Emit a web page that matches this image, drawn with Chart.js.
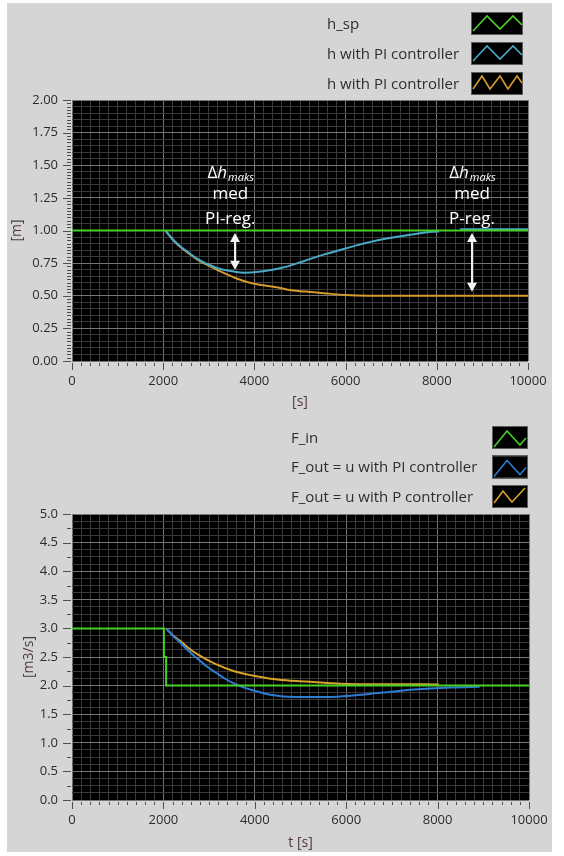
<!DOCTYPE html>
<html>
<head>
<meta charset="utf-8">
<script src="https://cdn.jsdelivr.net/npm/chart.js@4.4.1/dist/chart.umd.min.js"></script>
<style>
  html, body { margin: 0; padding: 0; background: #fff; }
  body { width: 564px; height: 856px; position: relative; overflow: hidden; }
  #panel { position: absolute; left: 7px; top: 3px; width: 545px; height: 849px; background: #d5d5d5; }
  .box { position: absolute; left: 0; width: 564px; }
  #boxTop { top: 0; height: 420px; }
  #boxBot { top: 420px; height: 436px; }
</style>
</head>
<body>
<div id="panel"></div>
<div class="box" id="boxTop"><canvas id="levelChart" width="564" height="420"></canvas></div>
<div class="box" id="boxBot"><canvas id="flowChart" width="564" height="436"></canvas></div>
<script>
// ---- level chart data (top) ----
const T_SP = [0, 10000];
const H_SP = [1.0, 1.0];
const T_H_PI = [2050, 2200, 2370, 2560, 2760, 2960, 3160, 3350, 3550, 3800, 4000, 4400, 4730, 5120, 5520, 5920, 6310, 6700, 7100, 7500, 7890, 8050, 8300, 8510, 10000];
const H_PI = [1.00, 0.935, 0.88, 0.83, 0.78, 0.745, 0.715, 0.697, 0.685, 0.677, 0.68, 0.70, 0.725, 0.77, 0.815, 0.855, 0.892, 0.925, 0.95, 0.972, 0.99, 0.993, null, 1.01, 1.01];
const T_H_P = [2050, 2200, 2370, 2560, 2760, 3000, 3200, 3580, 3900, 4200, 4520, 4730, 5120, 5520, 6000, 6500, 10000];
const H_P = [1.00, 0.935, 0.875, 0.825, 0.775, 0.73, 0.695, 0.636, 0.60, 0.58, 0.564, 0.546, 0.532, 0.52, 0.505, 0.50, 0.50];
const LEVEL_LABELS = ['h_sp', 'h with PI controller', 'h with PI controller'];

// annotations on the level chart (data units)
const ANNO_T = [3470, 8772];
const ANNO_REG = ['PI-reg.', 'P-reg.'];
const ANNO_ROWS = [1.446, 1.277, 1.085];
const ARROW_T = [3575, 8772];
const ARROW_HI = [0.98, 0.98];
const ARROW_LO = [0.70, 0.53];

// ---- flow chart data (bottom) ----
const T_IN = [0, 2010, 2010, 2060, 2060, 10000];
const F_IN = [3.0, 3.0, 2.5, 2.5, 2.0, 2.0];
const T_F_PI = [2060, 2200, 2370, 2560, 2760, 2960, 3160, 3350, 3550, 3750, 3950, 4340, 4890, 5520, 6000, 6700, 7500, 8290, 8920];
const F_PI = [3.0, 2.88, 2.75, 2.6, 2.46, 2.33, 2.22, 2.12, 2.035, 1.97, 1.92, 1.84, 1.80, 1.80, 1.82, 1.87, 1.93, 1.965, 1.98];
const T_F_P = [2060, 2200, 2370, 2560, 2760, 2960, 3160, 3550, 3950, 4340, 4730, 5120, 5520, 5700, 6000, 7000, 8030];
const F_P = [3.0, 2.885, 2.78, 2.65, 2.54, 2.45, 2.37, 2.25, 2.175, 2.12, 2.09, 2.07, 2.05, 2.04, 2.03, 2.025, 2.02];
const FLOW_LABELS = ['F_in', 'F_out = u with PI controller', 'F_out = u with P controller'];

const GREEN = '#46d02a', CYAN = '#48a9c9', ORANGE = '#d49a2c', BLUE = '#2e7bd2', ORANGE2 = '#d9a22a';
const MAJOR = '#767676', MINOR = '#3a3a3a';
const TICK_COLOR = '#2c2c2c', TITLE_COLOR = '#4e3646', LEGEND_COLOR = '#2e2e2e';
const FONT = '"Open Sans", "DejaVu Sans", sans-serif';

function pts(ts, vs) { return ts.map((t, i) => ({x: t, y: vs[i]})); }
function isMult(v, step) { return Math.abs(v / step - Math.round(v / step)) < 1e-6; }

function line(label, ts, vs, color, smooth) {
  return {
    label: label, data: pts(ts, vs), borderColor: color, borderWidth: 2,
    pointRadius: 0, tension: 0, spanGaps: false,
    cubicInterpolationMode: smooth ? 'monotone' : 'default'
  };
}

function xAxis(title, padBottom, h) {
  return {
    type: 'linear', min: 0, max: 10000,
    ticks: { stepSize: 200, autoSkip: false, maxRotation: 0, padding: 12, color: TICK_COLOR,
             font: { family: FONT, size: 13 }, callback: v => (isMult(v, 2000) ? String(v) : '') },
    grid: { drawTicks: false, color: c => (c.tick && isMult(c.tick.value, 2000) ? MAJOR : MINOR) },
    border: { display: false },
    title: { display: true, text: title, color: TITLE_COLOR, font: { family: FONT, size: 14 },
             padding: { top: 0, bottom: padBottom } },
    afterFit: s => { s.height = h; }
  };
}

function yAxis(title, max, minor, major, digits, padTop) {
  return {
    min: 0, max: max,
    ticks: { stepSize: minor, autoSkip: false, padding: 14, color: TICK_COLOR,
             font: { family: FONT, size: 13 }, callback: v => (isMult(v, major) ? v.toFixed(digits) : '') },
    grid: { drawTicks: false, color: c => (c.tick && isMult(c.tick.value, major) ? MAJOR : MINOR) },
    border: { display: false },
    title: { display: true, text: title, color: TITLE_COLOR, font: { family: FONT, size: 14 },
             padding: { top: padTop, bottom: 0 } },
    afterFit: s => { s.width = 72; }
  };
}

// black plot background
const plotBack = {
  id: 'plotBack',
  beforeDraw(chart) {
    const a = chart.chartArea, ctx = chart.ctx;
    ctx.save(); ctx.fillStyle = '#000';
    ctx.fillRect(a.left, a.top, a.right - a.left, a.bottom - a.top);
    ctx.restore();
  }
};

// short tick marks on both axes, long at labelled values
const axisMarks = {
  id: 'axisMarks',
  afterDraw(chart, args, o) {
    const ctx = chart.ctx, a = chart.chartArea, xs = chart.scales.x, ys = chart.scales.y;
    ctx.save(); ctx.strokeStyle = '#505050'; ctx.lineWidth = 1; ctx.beginPath();
    const nx = Math.round((xs.max - xs.min) / o.xMinor);
    for (let i = 0; i <= nx; i++) {
      const v = xs.min + i * o.xMinor, px = Math.round(xs.getPixelForValue(v)) + 0.5;
      ctx.moveTo(px, a.bottom + 2); ctx.lineTo(px, a.bottom + (isMult(v, o.xMajor) ? 9 : 5));
    }
    const ny = Math.round((ys.max - ys.min) / o.yMinor);
    for (let i = 0; i <= ny; i++) {
      const v = ys.min + i * o.yMinor, py = Math.round(ys.getPixelForValue(v)) + 0.5;
      ctx.moveTo(a.left - 1, py); ctx.lineTo(a.left - (isMult(v, o.yMajor) ? 9 : 5), py);
    }
    ctx.stroke(); ctx.restore();
  }
};

// LabVIEW style legend: text with a small black swatch to its right
const ZIG = {
  wide: [[2, 19], [16, 4], [29, 17], [42, 4], [51, 13]],
  wideFast: [[2, 17], [11, 4], [19, 17], [29, 4], [37, 17], [46, 4], [51, 11]],
  narrow: [[2, 21], [15, 5], [28, 19], [34, 12]],
  narrowFast: [[2, 18], [11, 6], [20, 17], [33, 3]]
};
const plotLegend = {
  id: 'plotLegend',
  afterDraw(chart, args, o) {
    const ctx = chart.ctx;
    ctx.save();
    ctx.font = '15px ' + FONT;
    ctx.textAlign = 'left'; ctx.textBaseline = 'middle';
    o.items.forEach((it, i) => {
      const top = o.top + i * o.gap;
      ctx.fillStyle = LEGEND_COLOR;
      ctx.fillText(it.text, o.textX, top + o.h / 2 + 1);
      ctx.fillStyle = '#000'; ctx.fillRect(o.boxX, top, o.w, o.h);
      ctx.strokeStyle = '#5c5c5c'; ctx.lineWidth = 1;
      ctx.strokeRect(o.boxX + 0.5, top + 0.5, o.w - 1, o.h - 1);
      ctx.strokeStyle = it.color; ctx.lineWidth = 1.6; ctx.beginPath();
      ZIG[it.zig].forEach((p, k) => {
        if (k === 0) ctx.moveTo(o.boxX + p[0], top + p[1]); else ctx.lineTo(o.boxX + p[0], top + p[1]);
      });
      ctx.stroke();
    });
    ctx.restore();
  }
};

// Δh_maks text and double arrows on the level chart
function drawDeltaH(ctx, cx, cy) {
  const f1 = '17px ' + FONT, f2 = 'italic 17px ' + FONT, f3 = 'italic 11px ' + FONT;
  ctx.font = f1; const w1 = ctx.measureText('Δ').width;
  ctx.font = f2; const w2 = ctx.measureText('h').width;
  ctx.font = f3; const w3 = ctx.measureText('maks').width;
  let x = cx - (w1 + w2 + w3) / 2;
  const base = cy + 6;
  ctx.textAlign = 'left'; ctx.textBaseline = 'alphabetic';
  ctx.font = f1; ctx.fillText('Δ', x, base); x += w1;
  ctx.font = f2; ctx.fillText('h', x, base); x += w2 + 1;
  ctx.font = f3; ctx.fillText('maks', x, base + 3);
}
function drawArrow(ctx, x, y1, y2) {
  ctx.strokeStyle = '#f2f2f2'; ctx.fillStyle = '#f2f2f2'; ctx.lineWidth = 2;
  ctx.beginPath(); ctx.moveTo(x, y1 + 8); ctx.lineTo(x, y2 - 8); ctx.stroke();
  ctx.beginPath(); ctx.moveTo(x, y1); ctx.lineTo(x - 5, y1 + 9); ctx.lineTo(x + 5, y1 + 9); ctx.closePath(); ctx.fill();
  ctx.beginPath(); ctx.moveTo(x, y2); ctx.lineTo(x - 5, y2 - 9); ctx.lineTo(x + 5, y2 - 9); ctx.closePath(); ctx.fill();
}
const levelNotes = {
  id: 'levelNotes',
  afterDatasetsDraw(chart) {
    const ctx = chart.ctx, xs = chart.scales.x, ys = chart.scales.y;
    ctx.save(); ctx.fillStyle = '#fff';
    ANNO_T.forEach((t, i) => {
      const cx = xs.getPixelForValue(t);
      drawDeltaH(ctx, cx, ys.getPixelForValue(ANNO_ROWS[0]));
      ctx.font = '17px ' + FONT; ctx.textAlign = 'center'; ctx.textBaseline = 'middle';
      ctx.fillText('med', cx, ys.getPixelForValue(ANNO_ROWS[1]));
      ctx.fillText(ANNO_REG[i], cx, ys.getPixelForValue(ANNO_ROWS[2]));
    });
    ARROW_T.forEach((t, i) => {
      drawArrow(ctx, Math.round(xs.getPixelForValue(t)), ys.getPixelForValue(ARROW_HI[i]), ys.getPixelForValue(ARROW_LO[i]));
    });
    ctx.restore();
  }
};

function baseOptions(padTop, padRight, x, y) {
  return {
    responsive: false, animation: false,
    layout: { padding: { top: padTop, right: padRight, left: 0, bottom: 0 } },
    scales: { x: x, y: y },
    plugins: { legend: { display: false }, tooltip: { enabled: false } }
  };
}

const levelOpts = baseOptions(100, 36, xAxis('[s]', 10, 59), yAxis('[m]', 2, 0.05, 0.25, 2, 9));
levelOpts.plugins.axisMarks = { xMinor: 200, xMajor: 2000, yMinor: 0.025, yMajor: 0.25 };
levelOpts.plugins.plotLegend = {
  textX: 327, boxX: 471, top: 12, gap: 30, w: 52, h: 23,
  items: [
    { text: LEVEL_LABELS[0], color: GREEN, zig: 'wide' },
    { text: LEVEL_LABELS[1], color: CYAN, zig: 'wide' },
    { text: LEVEL_LABELS[2], color: ORANGE, zig: 'wideFast' }
  ]
};
new Chart(document.getElementById('levelChart'), {
  type: 'line',
  data: { datasets: [
    line(LEVEL_LABELS[0], T_SP, H_SP, GREEN, false),
    line(LEVEL_LABELS[1], T_H_PI, H_PI, CYAN, true),
    line(LEVEL_LABELS[2], T_H_P, H_P, ORANGE, true)
  ] },
  options: levelOpts,
  plugins: [plotBack, axisMarks, plotLegend, levelNotes]
});

const flowOpts = baseOptions(94, 35, xAxis('t [s]', 5, 56), yAxis('[m3/s]', 5, 0.125, 0.5, 1, 21));
flowOpts.plugins.axisMarks = { xMinor: 200, xMajor: 2000, yMinor: 0.25, yMajor: 0.5 };
flowOpts.plugins.plotLegend = {
  textX: 291, boxX: 492, top: 6, gap: 29.5, w: 36, h: 23,
  items: [
    { text: FLOW_LABELS[0], color: GREEN, zig: 'narrow' },
    { text: FLOW_LABELS[1], color: BLUE, zig: 'narrow' },
    { text: FLOW_LABELS[2], color: ORANGE2, zig: 'narrowFast' }
  ]
};
new Chart(document.getElementById('flowChart'), {
  type: 'line',
  data: { datasets: [
    line(FLOW_LABELS[0], T_IN, F_IN, GREEN, false),
    line(FLOW_LABELS[1], T_F_PI, F_PI, BLUE, true),
    line(FLOW_LABELS[2], T_F_P, F_P, ORANGE2, true)
  ] },
  options: flowOpts,
  plugins: [plotBack, axisMarks, plotLegend]
});
</script>
</body>
</html>
